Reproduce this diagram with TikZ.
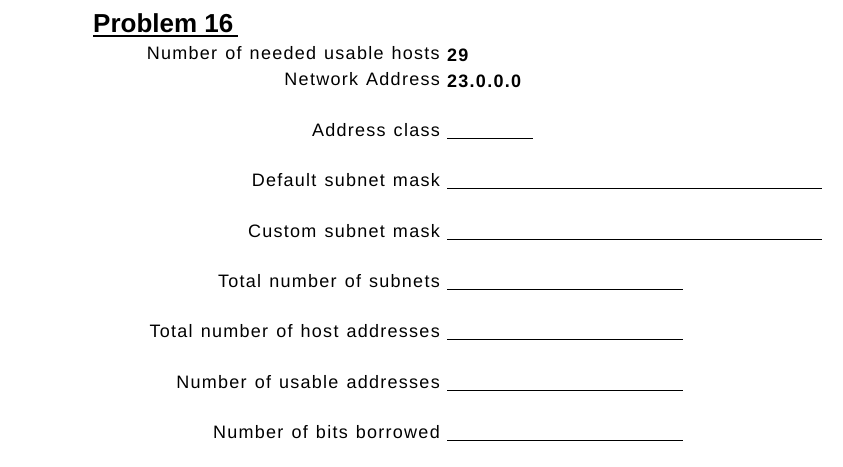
\documentclass[tikz,border=0pt]{standalone}
\usepackage{fontspec}
\setmainfont{Liberation Sans}
\newfontfamily\spaced[LetterSpace=7,WordSpace=1.3]{Liberation Sans}
\begin{document}
\begin{tikzpicture}[x=1pt,y=-1pt,
  lab/.style={anchor=base east,inner sep=0,font=\spaced\fontsize{18}{20}\selectfont},
  val/.style={anchor=base west,inner sep=0,font=\spaced\fontsize{18}{20}\selectfont\bfseries},
  blank/.style={line width=0.8pt}]
\useasboundingbox (0,0) rectangle (843,466);
\node[anchor=base west,inner sep=0,font=\fontsize{26}{30}\selectfont\bfseries] (t) at (93,32) {Problem 16};
\draw[line width=1.5pt] (93,36) -- (238,36);
\node[lab] (l1) at (440,59) {Number of needed usable hosts};
\node[val] (v1) at (447,61) {29};
\node[lab] (l2) at (440,85) {Network Address};
\node[val] (v2) at (447,87) {23.0.0.0};
\foreach \y/\t/\e/\n in {136/Address class/533/a, 186/Default subnet mask/822/b, 237/Custom subnet mask/822/c, 287/Total number of subnets/683/d, 337/Total number of host addresses/683/e, 388/Number of usable addresses/683/f, 438/Number of bits borrowed/683/g}{
  \node[lab] (l\n) at (440,\y) {\t};
  \coordinate (s\n) at (447,\y+2);
  \coordinate (e\n) at (\e,\y+2);
  \draw[blank] (s\n) -- (e\n);
}
\end{tikzpicture}
\end{document}
